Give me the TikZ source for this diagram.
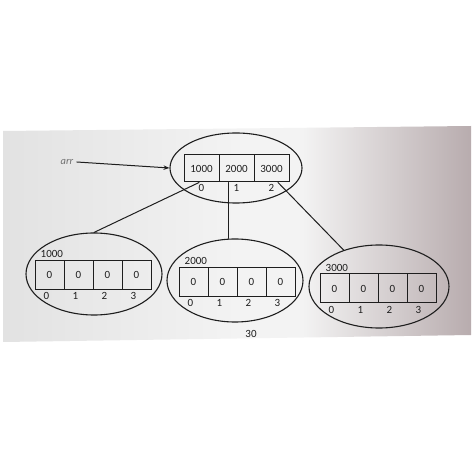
\documentclass[tikz,border=0pt]{standalone}
\usepackage{fontspec}
\setmainfont{Carlito}
\usepackage{xcolor}
\usepackage{tikz}
\usetikzlibrary{shapes.geometric,arrows.meta,positioning}
\definecolor{ink}{HTML}{1E1E1E}
\definecolor{muted}{HTML}{707070}
\definecolor{pageL}{HTML}{E2E2E2}
\definecolor{pageM}{HTML}{F3F3F3}
\definecolor{pageR}{HTML}{B8ACAE}
\pgfdeclarehorizontalshading{pagefade}{100bp}{color(0bp)=(pageL); color(25bp)=(pageL);
  color(50bp)=(pageM); color(57bp)=(pageM); color(75bp)=(pageR); color(100bp)=(pageR)}
\tikzset{
  blob/.style={draw=ink, ellipse, line width=1.1pt, inner sep=0pt},
  cell/.style={draw=ink, line width=1pt, minimum width=29pt, minimum height=29pt, inner sep=0pt, text=ink, font=\fontsize{11}{13}\selectfont},
  wide/.style={cell, minimum width=35pt, minimum height=27pt},
  idx/.style={text=ink, font=\fontsize{11}{13}\selectfont},
  link/.style={draw=ink, line width=1pt, line cap=round},
}

\begin{document}
\begin{tikzpicture}[x=1pt,y=-1pt]
  \useasboundingbox (0,0) rectangle (474,470);
  \fill[white] (0,0) rectangle (474,470);
  % photographed page
  \shade[shading=pagefade]
    (3,131) -- (471,126) -- (471,335) -- (3,342) -- cycle;
  % root array
  \node[blob, minimum width=132pt, minimum height=70pt] (root) at (236,168) {};
  \foreach \v [count=\i from 0] in {1000,2000,3000}
    \node[wide, label={[idx,label distance=-2pt]below:\i}] (r\i) at (201.5+35*\i,168.5) {\v};
  \node[text=muted, font=\fontsize{10.5}{12}\selectfont\itshape] (arr) at (67,162) {arr};
  \draw[link,-{Stealth[length=6pt,width=4.5pt]}] (arr.east) -- (root.west);
  % child arrays
  \foreach \n/\cx/\cy/\w/\h/\x/\y/\t in {c1/94/274/136pt/82pt/35/275/1000,
      c2/235/280.5/136pt/83pt/179/282/2000, c3/379/286.5/140pt/83pt/320/288.5/3000} {
    \node[blob, minimum width=\w, minimum height=\h] (\n) at (\cx,\cy) {};
    \foreach \k in {0,...,3}
      \node[cell, label={[idx,xshift=-3pt,label distance=-1pt]below:\k}] (\n-\k) at (\x+14.5+29*\k,\y) {0};
    \node[idx, inner sep=0pt, above right=2pt and 6pt of \n-0.north west] (\n-t) {\t};
  }
  % pointers
  \draw[link] (r0.-100) -- (c1.north);
  \draw[link] (r1.-120) -- (r1.-120 |- c2.north);
  \draw[link] (r2.-65) -- (c3);
  \node[idx] (pg) at (251,334) {30};
\end{tikzpicture}
\end{document}
